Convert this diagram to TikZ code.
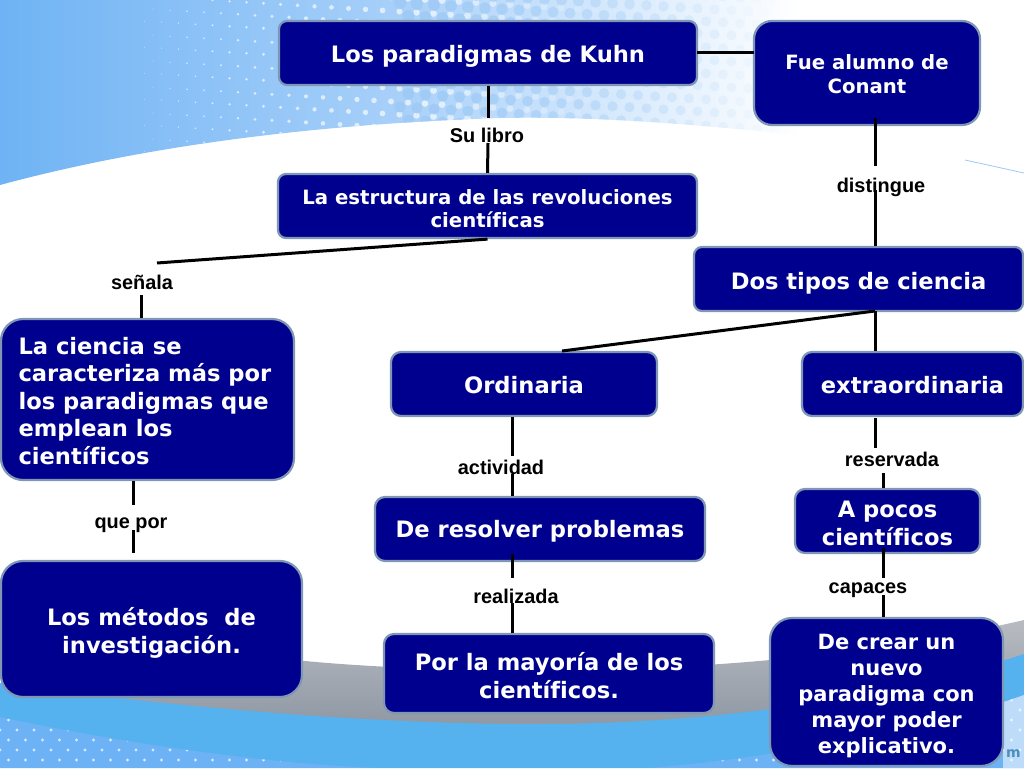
\documentclass[tikz,border=0pt]{standalone}
\usepackage{fontspec}
\setmainfont{DejaVu Sans}[Ligatures=NoCommon]
\newfontfamily\lblfont{Liberation Sans}
\usetikzlibrary{calc}
\definecolor{boxfill}{HTML}{00008F}
\definecolor{boxedge}{HTML}{7F97B5}
\definecolor{skyleft}{HTML}{6FB3F4}
\definecolor{skymid}{HTML}{A8D0F9}
\definecolor{skydot}{HTML}{9CC9F5}
\definecolor{graytop}{HTML}{B8BBC1}
\definecolor{graylow}{HTML}{8F98A4}
\definecolor{bandblue}{HTML}{56B2EE}
\definecolor{lowblue}{HTML}{6DB2F5}
\definecolor{markblue}{HTML}{4B8FBF}
\tikzset{
  cbox/.style={draw=boxedge,line width=2.2pt,fill=boxfill,text=white,align=center,inner sep=0pt,
    anchor=center},
  lbl/.style={font=\lblfont\bfseries\fontsize{19.9}{22}\selectfont,text=black,inner sep=0pt},
  conn/.style={draw=black,line width=3pt},
}
% name, left, top, right, bottom, radius, font size, leading, text
\newcommand{\cb}[9]{%
  \node[cbox,rounded corners=#6pt,minimum width=#4pt-#2pt,minimum height=#5pt-#3pt,
    font=\bfseries\fontsize{#7}{#8}\selectfont] (#1) at ({(#2+#4)/2},{(#3+#5)/2}) {#9};}
\newcommand{\dn}[1]{\rule{0pt}{#1pt}}
\begin{document}
\begin{tikzpicture}[x=1pt,y=-1pt]
\useasboundingbox (0,0) rectangle (1024,768);
\fill[white] (0,0) rectangle (1024,768);
% ---- top sweep
\begin{scope}
\clip (0,0) -- (0,185) .. controls (100,158) and (260,126) .. (500,118)
   .. controls (600,116) and (700,125) .. (800,135) -- (800,0) -- cycle;
\shade[left color=skyleft,right color=white,middle color=skymid] (0,0) rectangle (800,190);
\foreach \i in {0,...,46}{\foreach \j in {-6,...,14}{
  \pgfmathsetmacro{\px}{\i*17+mod(\j,2)*8.5}
  \pgfmathsetmacro{\py}{\j*13+0.06*\i*17}
  \pgfmathsetmacro{\rr}{max(0,min(3.4,(\px-110)/95))}
  \pgfmathsetmacro{\op}{\px<430?0.65:max(0,0.65-(\px-430)/300)}
  \fill[white,opacity=\op] (\px,\py) circle (\rr pt);
}}
\foreach \i in {0,...,24}{\foreach \j in {-3,...,10}{
  \pgfmathsetmacro{\px}{400+\i*17+mod(\j,2)*8.5}
  \pgfmathsetmacro{\py}{\j*13+0.06*\i*17+3}
  \pgfmathsetmacro{\rr}{max(0,6-\i*0.05-0.04*\j)}
  \pgfmathsetmacro{\op}{max(0,0.8-\i*0.036)}
  \fill[skydot,opacity=\op] (\px,\py) circle (\rr pt);
}}
\end{scope}
\draw[skydot,line width=0.8pt] (965,160) -- (1024,173);
% ---- bottom bands
\shade[top color=graytop,bottom color=graylow] (0,690) .. controls (110,660) and (220,655) .. (305,661)
   .. controls (420,672) and (610,675) .. (770,660)
   .. controls (880,650) and (960,635) .. (1024,620) -- (1024,725) -- (0,725) -- cycle;
\fill[bandblue] (0,683) .. controls (120,700) and (320,722) .. (512,724)
   .. controls (720,726) and (900,695) .. (1024,654) -- (1024,768) -- (0,768) -- cycle;
\begin{scope}
\clip (0,717) .. controls (130,745) and (280,765) .. (380,768)
  -- (650,768) .. controls (800,755) and (940,725) .. (1024,695) -- (1024,768) -- (0,768) -- cycle;
\fill[lowblue] (0,690) rectangle (1024,768);
\foreach \i in {0,...,60}{\foreach \j in {0,...,8}{
  \pgfmathsetmacro{\px}{\i*17+mod(\j,2)*8.5}
  \pgfmathsetmacro{\py}{690+\j*10}
  \fill[white,opacity=0.7] (\px,\py) circle (1.6pt);
}}
\fill[white,opacity=0.55] (1003,690) rectangle (1024,768);
\end{scope}
\node[font=\bfseries\fontsize{14}{15}\selectfont,text=markblue,anchor=east,inner sep=0pt] (mark) at (1021,754) {m};
% ---- boxes
\cb{kuhn}{279}{21}{697}{85}{8}{22.6}{26}{\dn{23}Los paradigmas de Kuhn}
\cb{conant}{754}{21}{980}{125}{18}{19.7}{24}{\dn{17}Fue alumno de\\Conant}
\cb{estr}{278}{174}{697}{238}{8}{19.7}{23.5}{\dn{20}La estructura de las revoluciones\\científicas}
\cb{dos}{694}{247}{1023}{311}{8}{22.6}{26}{\dn{25}Dos tipos de ciencia}
\cb{cien}{1}{319}{294}{480}{22}{22.6}{27.6}{\begin{minipage}{258pt}\raggedright\dn{20}La ciencia se\\caracteriza más por\\los paradigmas que\\emplean los\\científicos\end{minipage}}
\cb{ord}{391}{352}{657}{416}{10}{22.6}{26}{\dn{19}Ordinaria}
\cb{extra}{802}{352}{1023}{416}{10}{22.6}{26}{\dn{19}extraordinaria}
\cb{resol}{375}{497}{705}{561}{10}{22.6}{26}{\dn{21}De resolver problemas}
\cb{pocos}{795}{489}{980}{553}{10}{22.6}{27.5}{\dn{21}A pocos\\científicos}
\cb{metod}{1}{561}{302}{697}{22}{22.6}{28}{\dn{26}Los métodos~~de\\investigación.}
\cb{mayor}{384}{634}{714}{713}{10}{22.6}{27.5}{\dn{22}Por la mayoría de los\\científicos.}
\cb{crear}{770}{618}{1003}{766}{22}{21}{26}{\dn{24}De crear un\\nuevo\\paradigma con\\mayor poder\\explicativo.}
% ---- free connector ends
\coordinate (a1) at (488,118);
\coordinate (a2) at (488,143);
\coordinate (b0) at (875,118);
\coordinate (b1) at (875,166);
\coordinate (b2) at (875,190);
\coordinate (c1) at (157,263);
\coordinate (c2) at (141,295);
\coordinate (d1) at (133,481);
\coordinate (d2) at (133,505);
\coordinate (d3) at (133,530);
\coordinate (d4) at (133,553);
\coordinate (e1) at (512,456);
\coordinate (e2) at (512,474);
\coordinate (f1) at (512,554);
\coordinate (f2) at (512,578);
\coordinate (f3) at (512,603);
\coordinate (g0) at (875,311);
\coordinate (g1) at (875,418);
\coordinate (g2) at (875,448);
\coordinate (g3) at (883,473);
\coordinate (h0) at (883,548);
\coordinate (h1) at (883,578);
\coordinate (h2) at (883,595);
\coordinate (k1) at (562,351);
\coordinate (m0) at (697,53);
\coordinate (m1) at (754,53);
% ---- connectors
\draw[conn] (kuhn.south) -- (a1);
\draw[conn] (a2) -- (estr.north);
\draw[conn] (m0) -- (m1);
\draw[conn] (b0) -- (b1);
\draw[conn] (b2) -- (dos.north-|b2);
\draw[conn] (estr.south) -- (c1);
\draw[conn] (c2) -- (cien.north-|c2);
\draw[conn] (d1) -- (d2);
\draw[conn] (d3) -- (d4);
\draw[conn] (ord.south-|e1) -- (e1);
\draw[conn] (e2) -- (resol.north-|e2);
\draw[conn] (f1) -- (f2);
\draw[conn] (f3) -- (mayor.north-|f3);
\draw[conn] (g0) -- (k1);
\draw[conn] (g0) -- (extra.north-|g0);
\draw[conn] (g1) -- (g2);
\draw[conn] (g3) -- (pocos.north-|g3);
\draw[conn] (h0) -- (h1);
\draw[conn] (h2) -- (crear.north-|h2);
% ---- labels
\node[lbl] (l1) at (487,135) {Su libro};
\node[lbl] (l2) at (881,187) {distingue};
\node[lbl] (l3) at (142,282) {señala};
\node[lbl] (l4) at (131,525) {que por};
\node[lbl] (l5) at (501,467) {actividad};
\node[lbl] (l6) at (516,596) {realizada};
\node[lbl] (l7) at (892,459) {reservada};
\node[lbl] (l8) at (868,590) {capaces};
\end{tikzpicture}
\end{document}
